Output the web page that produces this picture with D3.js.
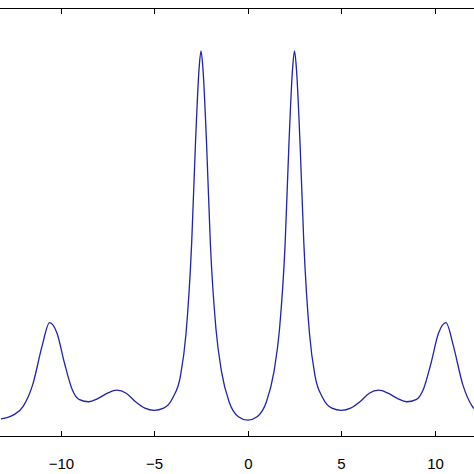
<!DOCTYPE html><html><head><meta charset="utf-8">
<script src="https://cdn.jsdelivr.net/npm/d3@7"></script>
<style>body{margin:0;background:#fff}</style></head><body>
<svg id="c" width="474" height="474"></svg>
<script>
const xs = [-13.2,-12.5,-12,-11.5,-11,-10.6,-10.2,-9.8,-9.4,-9,-8.5,-8,-7.5,-7,-6.5,-6,-5.5,-5,-4.5,-4,-3.6,-3.3,-3.0,-2.8,-2.6,-2.5,-2.4,-2.2,-2.0,-1.7,-1.4,-1.0,-0.5,0,
 0.5,1.0,1.4,1.7,2.0,2.2,2.4,2.5,2.6,2.8,3.0,3.3,3.6,4,4.5,5,5.5,6,6.5,7,7.5,8,8.5,9,9.4,9.8,10.2,10.6,11,11.5,12,12.2];
const ys = [0.040,0.050,0.070,0.120,0.210,0.265,0.240,0.170,0.110,0.085,0.080,0.088,0.100,0.107,0.100,0.080,0.065,0.060,0.065,0.090,0.140,0.240,0.450,0.680,0.860,0.900,0.860,0.680,0.450,0.250,0.150,0.080,0.045,0.037,
 0.045,0.080,0.150,0.250,0.450,0.680,0.860,0.900,0.860,0.680,0.450,0.240,0.140,0.090,0.065,0.060,0.065,0.080,0.100,0.107,0.100,0.088,0.080,0.085,0.110,0.170,0.240,0.265,0.210,0.120,0.070,0.060];
const xTicks = [-10,-5,0,5,10];
const svg = d3.select("#c");
const x = d3.scaleLinear().domain([-13.25,12.1]).range([0,474]);
const y = d3.scaleLinear().domain([0,1]).range([436,8]);
svg.append("line").attr("x1",0).attr("x2",474).attr("y1",436.5).attr("y2",436.5).attr("stroke","#000");
svg.append("line").attr("x1",0).attr("x2",474).attr("y1",8.5).attr("y2",8.5).attr("stroke","#000");
xTicks.forEach(t=>{
  const px = Math.round(x(t))+0.5;
  svg.append("line").attr("x1",px).attr("x2",px).attr("y1",436).attr("y2",431).attr("stroke","#000");
  svg.append("line").attr("x1",px).attr("x2",px).attr("y1",9).attr("y2",14).attr("stroke","#000");
  svg.append("text").attr("x",px).attr("y",469).attr("text-anchor","middle")
    .attr("font-family","Liberation Sans, Arial").attr("font-size",15)
    .text(t<0?"\u2212"+(-t):String(t));
});
const pts = xs.map((v,i)=>[v,ys[i]]);
svg.append("path").attr("d",d3.line().x(d=>x(d[0])).y(d=>y(d[1])).curve(d3.curveMonotoneX)(pts))
  .attr("fill","none").attr("stroke","#2222aa").attr("stroke-width",1.3);
</script></body></html>
